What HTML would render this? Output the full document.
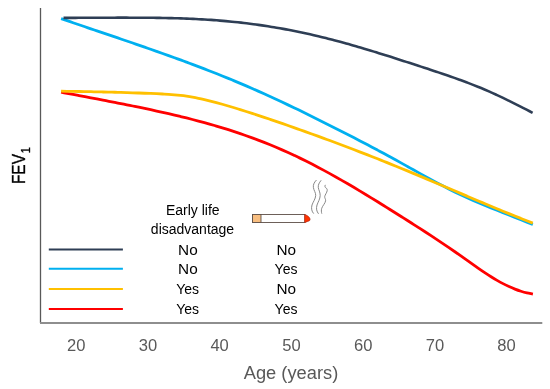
<!DOCTYPE html>
<html><head><meta charset="utf-8"><style>
html,body{margin:0;padding:0;background:#fff;}
svg{display:block;will-change:transform;}
text{font-family:"Liberation Sans",sans-serif;}
.tick{font-size:16px;fill:#595959;text-anchor:middle;}
.lg{font-size:14px;fill:#000;text-anchor:middle;}
</style></head><body>
<svg width="550" height="389" viewBox="0 0 550 389">
<rect width="550" height="389" fill="#fff"/>
<line x1="40.5" y1="8" x2="40.5" y2="323" stroke="#595959" stroke-width="1.3"/>
<line x1="40" y1="323" x2="542.3" y2="323" stroke="#8E8E8E" stroke-width="2.1"/>
<g fill="none" stroke-linecap="butt" stroke-linejoin="round">
<path d="M61.10,18.60 C63.09,19.29 65.08,19.98 67.07,20.67 C69.06,21.35 71.05,22.04 73.04,22.72 C75.03,23.40 77.02,24.08 79.01,24.76 C81.00,25.44 82.99,26.12 84.98,26.80 C86.97,27.48 88.96,28.15 90.95,28.83 C92.94,29.50 94.94,30.18 96.93,30.86 C98.92,31.53 100.91,32.20 102.90,32.88 C104.89,33.55 106.88,34.23 108.87,34.90 C110.86,35.58 112.85,36.25 114.84,36.93 C116.83,37.61 118.82,38.28 120.81,38.96 C122.80,39.64 124.79,40.32 126.78,41.00 C128.77,41.68 130.76,42.36 132.75,43.04 C134.74,43.73 136.73,44.41 138.72,45.10 C140.71,45.78 142.70,46.47 144.69,47.16 C146.68,47.86 148.67,48.55 150.66,49.25 C152.65,49.94 154.64,50.64 156.63,51.34 C158.62,52.04 160.61,52.75 162.61,53.46 C164.60,54.16 166.59,54.87 168.58,55.59 C170.57,56.30 172.56,57.02 174.55,57.74 C176.54,58.47 178.53,59.19 180.52,59.92 C182.51,60.65 184.50,61.39 186.49,62.12 C188.48,62.86 190.47,63.61 192.46,64.35 C194.45,65.10 196.44,65.85 198.43,66.61 C200.42,67.37 202.41,68.13 204.40,68.90 C206.39,69.66 208.38,70.44 210.37,71.21 C212.36,71.99 214.35,72.78 216.34,73.57 C218.33,74.36 220.32,75.15 222.31,75.95 C224.30,76.75 226.29,77.56 228.28,78.38 C230.28,79.19 232.27,80.01 234.26,80.84 C236.25,81.67 238.24,82.50 240.23,83.34 C242.22,84.18 244.21,85.03 246.20,85.89 C248.19,86.74 250.18,87.60 252.17,88.47 C254.16,89.34 256.15,90.22 258.14,91.11 C260.13,91.99 262.12,92.88 264.11,93.78 C266.10,94.68 268.09,95.59 270.08,96.50 C272.07,97.41 274.06,98.33 276.05,99.25 C278.04,100.17 280.03,101.10 282.02,102.04 C284.01,102.97 286.00,103.91 287.99,104.86 C289.98,105.81 291.97,106.76 293.96,107.71 C295.95,108.67 297.95,109.63 299.94,110.60 C301.93,111.56 303.92,112.53 305.91,113.51 C307.90,114.48 309.89,115.46 311.88,116.45 C313.87,117.43 315.86,118.42 317.85,119.41 C319.84,120.40 321.83,121.39 323.82,122.39 C325.81,123.38 327.80,124.38 329.79,125.39 C331.78,126.39 333.77,127.40 335.76,128.41 C337.75,129.41 339.74,130.43 341.73,131.44 C343.72,132.46 345.71,133.48 347.70,134.50 C349.69,135.52 351.68,136.55 353.67,137.58 C355.66,138.61 357.65,139.64 359.64,140.68 C361.63,141.71 363.62,142.75 365.62,143.80 C367.61,144.85 369.60,145.89 371.59,146.95 C373.58,148.00 375.57,149.06 377.56,150.12 C379.55,151.19 381.54,152.25 383.53,153.33 C385.52,154.40 387.51,155.48 389.50,156.56 C391.49,157.64 393.48,158.73 395.47,159.82 C397.46,160.91 399.45,162.01 401.44,163.12 C403.43,164.22 405.42,165.33 407.41,166.44 C409.40,167.55 411.39,168.66 413.38,169.77 C415.37,170.89 417.36,172.00 419.35,173.11 C421.34,174.22 423.33,175.32 425.32,176.42 C427.31,177.52 429.30,178.62 431.29,179.70 C433.29,180.79 435.28,181.87 437.27,182.93 C439.26,184.00 441.25,185.06 443.24,186.10 C445.23,187.14 447.22,188.17 449.21,189.18 C451.20,190.19 453.19,191.19 455.18,192.17 C457.17,193.14 459.16,194.10 461.15,195.04 C463.14,195.97 465.13,196.89 467.12,197.79 C469.11,198.69 471.10,199.57 473.09,200.43 C475.08,201.30 477.07,202.15 479.06,202.99 C481.05,203.83 483.04,204.65 485.03,205.47 C487.02,206.28 489.01,207.09 491.00,207.89 C492.99,208.69 494.98,209.48 496.97,210.27 C498.96,211.06 500.96,211.84 502.95,212.63 C504.94,213.41 506.93,214.19 508.92,214.97 C510.91,215.76 512.90,216.54 514.89,217.33 C516.88,218.12 518.87,218.91 520.86,219.71 C522.85,220.51 524.84,221.31 526.83,222.12 C528.82,222.94 530.81,223.77 532.80,224.60" stroke="#00B0F0" stroke-width="2.8"/>
<path d="M61.10,92.20 C63.09,92.58 65.08,92.95 67.07,93.33 C69.06,93.70 71.05,94.08 73.04,94.45 C75.04,94.83 77.03,95.20 79.02,95.58 C81.01,95.95 83.00,96.33 84.99,96.71 C86.98,97.08 88.97,97.46 90.96,97.84 C92.95,98.21 94.94,98.59 96.93,98.97 C98.92,99.35 100.91,99.73 102.91,100.11 C104.90,100.50 106.89,100.88 108.88,101.27 C110.87,101.65 112.86,102.04 114.85,102.43 C116.84,102.82 118.83,103.21 120.82,103.60 C122.81,104.00 124.80,104.39 126.79,104.79 C128.78,105.19 130.78,105.60 132.77,106.00 C134.76,106.41 136.75,106.81 138.74,107.23 C140.73,107.64 142.72,108.05 144.71,108.47 C146.70,108.89 148.69,109.31 150.68,109.74 C152.67,110.17 154.66,110.60 156.65,111.03 C158.65,111.47 160.64,111.91 162.63,112.35 C164.62,112.80 166.61,113.25 168.60,113.71 C170.59,114.16 172.58,114.62 174.57,115.09 C176.56,115.56 178.55,116.04 180.54,116.52 C182.53,117.00 184.52,117.49 186.52,117.98 C188.51,118.48 190.50,118.98 192.49,119.50 C194.48,120.01 196.47,120.53 198.46,121.06 C200.45,121.59 202.44,122.12 204.43,122.67 C206.42,123.22 208.41,123.77 210.40,124.34 C212.39,124.90 214.39,125.48 216.38,126.07 C218.37,126.65 220.36,127.25 222.35,127.86 C224.34,128.46 226.33,129.08 228.32,129.71 C230.31,130.34 232.30,130.98 234.29,131.64 C236.28,132.29 238.27,132.96 240.26,133.64 C242.26,134.32 244.25,135.01 246.24,135.71 C248.23,136.42 250.22,137.13 252.21,137.86 C254.20,138.60 256.19,139.34 258.18,140.10 C260.17,140.86 262.16,141.63 264.15,142.41 C266.14,143.20 268.13,144.00 270.13,144.81 C272.12,145.62 274.11,146.45 276.10,147.29 C278.09,148.14 280.08,148.99 282.07,149.86 C284.06,150.74 286.05,151.62 288.04,152.52 C290.03,153.42 292.02,154.34 294.01,155.27 C296.00,156.21 298.00,157.15 299.99,158.12 C301.98,159.08 303.97,160.06 305.96,161.05 C307.95,162.04 309.94,163.05 311.93,164.07 C313.92,165.10 315.91,166.13 317.90,167.18 C319.89,168.23 321.88,169.30 323.87,170.37 C325.87,171.44 327.86,172.53 329.85,173.63 C331.84,174.73 333.83,175.84 335.82,176.96 C337.81,178.08 339.80,179.22 341.79,180.36 C343.78,181.50 345.77,182.65 347.76,183.81 C349.75,184.97 351.74,186.14 353.74,187.32 C355.73,188.50 357.72,189.69 359.71,190.88 C361.70,192.08 363.69,193.28 365.68,194.48 C367.67,195.69 369.66,196.91 371.65,198.13 C373.64,199.35 375.63,200.57 377.62,201.81 C379.61,203.04 381.61,204.27 383.60,205.51 C385.59,206.75 387.58,208.00 389.57,209.24 C391.56,210.49 393.55,211.74 395.54,213.00 C397.53,214.25 399.52,215.50 401.51,216.76 C403.50,218.02 405.49,219.28 407.48,220.54 C409.48,221.81 411.47,223.07 413.46,224.34 C415.45,225.61 417.44,226.89 419.43,228.17 C421.42,229.45 423.41,230.73 425.40,232.02 C427.39,233.31 429.38,234.61 431.37,235.92 C433.36,237.22 435.35,238.53 437.35,239.86 C439.34,241.18 441.33,242.51 443.32,243.85 C445.31,245.19 447.30,246.53 449.29,247.89 C451.28,249.25 453.27,250.62 455.26,252.00 C457.25,253.39 459.24,254.78 461.23,256.19 C463.22,257.59 465.22,259.01 467.21,260.42 C469.20,261.84 471.19,263.26 473.18,264.66 C475.17,266.06 477.16,267.46 479.15,268.83 C481.14,270.20 483.13,271.56 485.12,272.88 C487.11,274.20 489.10,275.49 491.09,276.74 C493.09,277.98 495.08,279.19 497.07,280.34 C499.06,281.49 501.05,282.59 503.04,283.63 C505.03,284.67 507.02,285.65 509.01,286.56 C511.00,287.47 512.99,288.32 514.98,289.10 C516.97,289.88 518.96,290.59 520.96,291.22 C522.95,291.85 524.94,292.42 526.93,292.90 C528.92,293.38 530.91,293.70 532.90,294.10" stroke="#FF0000" stroke-width="2.8"/>
<path d="M61.10,91.20 C63.09,91.23 65.08,91.26 67.07,91.29 C69.06,91.32 71.05,91.35 73.04,91.39 C75.03,91.42 77.02,91.45 79.01,91.49 C81.00,91.52 82.99,91.56 84.98,91.60 C86.97,91.64 88.96,91.67 90.95,91.72 C92.94,91.76 94.94,91.80 96.93,91.84 C98.92,91.88 100.91,91.93 102.90,91.98 C104.89,92.02 106.88,92.07 108.87,92.12 C110.86,92.17 112.85,92.22 114.84,92.27 C116.83,92.33 118.82,92.38 120.81,92.44 C122.80,92.50 124.79,92.56 126.78,92.62 C128.77,92.68 130.76,92.74 132.75,92.81 C134.74,92.87 136.73,92.94 138.72,93.01 C140.71,93.08 142.70,93.15 144.69,93.23 C146.68,93.30 148.67,93.38 150.66,93.46 C152.65,93.54 154.64,93.62 156.63,93.71 C158.62,93.80 160.61,93.89 162.61,94.00 C164.60,94.12 166.59,94.23 168.58,94.37 C170.57,94.51 172.56,94.67 174.55,94.85 C176.54,95.02 178.53,95.22 180.52,95.45 C182.51,95.67 184.50,95.92 186.49,96.20 C188.48,96.49 190.47,96.80 192.46,97.15 C194.45,97.49 196.44,97.87 198.43,98.28 C200.42,98.68 202.41,99.12 204.40,99.58 C206.39,100.04 208.38,100.52 210.37,101.02 C212.36,101.53 214.35,102.05 216.34,102.59 C218.33,103.13 220.32,103.69 222.31,104.25 C224.30,104.82 226.29,105.40 228.28,105.99 C230.28,106.58 232.27,107.18 234.26,107.78 C236.25,108.38 238.24,109.00 240.23,109.61 C242.22,110.23 244.21,110.85 246.20,111.48 C248.19,112.11 250.18,112.75 252.17,113.39 C254.16,114.03 256.15,114.68 258.14,115.33 C260.13,115.99 262.12,116.65 264.11,117.31 C266.10,117.97 268.09,118.64 270.08,119.31 C272.07,119.99 274.06,120.67 276.05,121.35 C278.04,122.03 280.03,122.72 282.02,123.41 C284.01,124.10 286.00,124.79 287.99,125.49 C289.98,126.18 291.97,126.88 293.96,127.59 C295.95,128.29 297.95,129.00 299.94,129.71 C301.93,130.41 303.92,131.13 305.91,131.84 C307.90,132.55 309.89,133.27 311.88,133.99 C313.87,134.71 315.86,135.43 317.85,136.16 C319.84,136.88 321.83,137.61 323.82,138.34 C325.81,139.07 327.80,139.81 329.79,140.54 C331.78,141.28 333.77,142.02 335.76,142.76 C337.75,143.50 339.74,144.25 341.73,145.00 C343.72,145.75 345.71,146.50 347.70,147.25 C349.69,148.01 351.68,148.77 353.67,149.53 C355.66,150.29 357.65,151.05 359.64,151.82 C361.63,152.59 363.62,153.36 365.62,154.13 C367.61,154.91 369.60,155.68 371.59,156.47 C373.58,157.25 375.57,158.03 377.56,158.82 C379.55,159.61 381.54,160.40 383.53,161.19 C385.52,161.99 387.51,162.79 389.50,163.59 C391.49,164.39 393.48,165.20 395.47,166.01 C397.46,166.82 399.45,167.63 401.44,168.45 C403.43,169.26 405.42,170.08 407.41,170.91 C409.40,171.73 411.39,172.56 413.38,173.39 C415.37,174.22 417.36,175.05 419.35,175.89 C421.34,176.72 423.33,177.56 425.32,178.40 C427.31,179.24 429.30,180.08 431.29,180.92 C433.29,181.76 435.28,182.61 437.27,183.45 C439.26,184.30 441.25,185.15 443.24,185.99 C445.23,186.84 447.22,187.69 449.21,188.54 C451.20,189.38 453.19,190.23 455.18,191.08 C457.17,191.93 459.16,192.78 461.15,193.63 C463.14,194.47 465.13,195.32 467.12,196.17 C469.11,197.01 471.10,197.86 473.09,198.70 C475.08,199.54 477.07,200.38 479.06,201.22 C481.05,202.06 483.04,202.90 485.03,203.74 C487.02,204.57 489.01,205.41 491.00,206.24 C492.99,207.07 494.98,207.90 496.97,208.72 C498.96,209.54 500.96,210.37 502.95,211.18 C504.94,212.00 506.93,212.81 508.92,213.62 C510.91,214.43 512.90,215.24 514.89,216.04 C516.88,216.84 518.87,217.63 520.86,218.42 C522.85,219.21 524.84,220.00 526.83,220.78 C528.82,221.56 530.81,222.33 532.80,223.10" stroke="#FFC000" stroke-width="2.8"/>
<path d="M63.50,17.90 C65.50,17.89 67.51,17.88 69.51,17.87 C71.52,17.86 73.52,17.85 75.53,17.84 C77.53,17.83 79.54,17.82 81.54,17.81 C83.55,17.80 85.55,17.79 87.56,17.78 C89.56,17.77 91.57,17.76 93.57,17.75 C95.58,17.74 97.58,17.73 99.58,17.72 C101.59,17.71 103.59,17.71 105.60,17.70 C107.60,17.69 109.61,17.69 111.61,17.68 C113.62,17.68 115.62,17.68 117.63,17.67 C119.63,17.67 121.64,17.67 123.64,17.67 C125.65,17.67 127.65,17.67 129.66,17.68 C131.66,17.68 133.66,17.68 135.67,17.69 C137.67,17.70 139.68,17.71 141.68,17.72 C143.69,17.73 145.69,17.74 147.70,17.76 C149.70,17.78 151.71,17.80 153.71,17.82 C155.72,17.85 157.72,17.87 159.73,17.91 C161.73,17.94 163.74,17.97 165.74,18.01 C167.74,18.05 169.75,18.10 171.75,18.15 C173.76,18.20 175.76,18.25 177.77,18.31 C179.77,18.37 181.78,18.44 183.78,18.51 C185.79,18.58 187.79,18.66 189.80,18.75 C191.80,18.83 193.81,18.92 195.81,19.02 C197.81,19.12 199.82,19.23 201.82,19.34 C203.83,19.45 205.83,19.58 207.84,19.70 C209.84,19.83 211.85,19.97 213.85,20.12 C215.86,20.26 217.86,20.42 219.87,20.58 C221.87,20.75 223.88,20.92 225.88,21.10 C227.89,21.28 229.89,21.48 231.89,21.68 C233.90,21.88 235.90,22.09 237.91,22.31 C239.91,22.53 241.92,22.76 243.92,22.99 C245.93,23.23 247.93,23.48 249.94,23.74 C251.94,23.99 253.95,24.26 255.95,24.54 C257.96,24.81 259.96,25.10 261.97,25.39 C263.97,25.69 265.97,25.99 267.98,26.31 C269.98,26.62 271.99,26.94 273.99,27.28 C276.00,27.61 278.00,27.95 280.01,28.30 C282.01,28.66 284.02,29.02 286.02,29.39 C288.03,29.76 290.03,30.14 292.04,30.54 C294.04,30.93 296.05,31.33 298.05,31.74 C300.05,32.15 302.06,32.57 304.06,33.00 C306.07,33.43 308.07,33.87 310.08,34.32 C312.08,34.77 314.09,35.23 316.09,35.70 C318.10,36.17 320.10,36.65 322.11,37.14 C324.11,37.63 326.12,38.13 328.12,38.64 C330.13,39.15 332.13,39.67 334.13,40.20 C336.14,40.72 338.14,41.26 340.15,41.80 C342.15,42.35 344.16,42.90 346.16,43.46 C348.17,44.02 350.17,44.58 352.18,45.16 C354.18,45.73 356.19,46.31 358.19,46.90 C360.20,47.48 362.20,48.08 364.21,48.67 C366.21,49.27 368.21,49.88 370.22,50.49 C372.22,51.09 374.23,51.71 376.23,52.33 C378.24,52.95 380.24,53.57 382.25,54.20 C384.25,54.82 386.26,55.46 388.26,56.09 C390.27,56.72 392.27,57.36 394.28,58.00 C396.28,58.64 398.29,59.29 400.29,59.93 C402.29,60.58 404.30,61.22 406.30,61.87 C408.31,62.52 410.31,63.17 412.32,63.82 C414.32,64.47 416.33,65.13 418.33,65.78 C420.34,66.43 422.34,67.08 424.35,67.74 C426.35,68.39 428.36,69.05 430.36,69.71 C432.36,70.37 434.37,71.03 436.37,71.70 C438.38,72.36 440.38,73.03 442.39,73.71 C444.39,74.39 446.40,75.07 448.40,75.77 C450.41,76.46 452.41,77.16 454.42,77.87 C456.42,78.58 458.43,79.30 460.43,80.04 C462.44,80.77 464.44,81.52 466.44,82.27 C468.45,83.03 470.45,83.80 472.46,84.59 C474.46,85.38 476.47,86.18 478.47,87.00 C480.48,87.81 482.48,88.65 484.49,89.50 C486.49,90.36 488.50,91.23 490.50,92.12 C492.51,93.01 494.51,93.93 496.52,94.85 C498.52,95.78 500.52,96.73 502.53,97.69 C504.53,98.65 506.54,99.62 508.54,100.61 C510.55,101.59 512.55,102.59 514.56,103.60 C516.56,104.60 518.57,105.62 520.57,106.64 C522.58,107.66 524.58,108.68 526.59,109.71 C528.59,110.74 530.60,111.77 532.60,112.80" stroke="#2E3E55" stroke-width="2.6"/>
</g>
<g stroke-width="2.05">
<line x1="48.8" y1="249.5" x2="122.9" y2="249.5" stroke="#2E3E55"/>
<line x1="48.8" y1="268.8" x2="122.9" y2="268.8" stroke="#00B0F0"/>
<line x1="48.8" y1="288.9" x2="122.9" y2="288.9" stroke="#FFC000"/>
<line x1="48.8" y1="308.9" x2="122.9" y2="308.9" stroke="#FF0000"/>
</g>
<text x="76.3" y="351.1" class="tick" textLength="18.4" lengthAdjust="spacingAndGlyphs">20</text>
<text x="148" y="351.1" class="tick" textLength="18.4" lengthAdjust="spacingAndGlyphs">30</text>
<text x="219.6" y="351.1" class="tick" textLength="18.4" lengthAdjust="spacingAndGlyphs">40</text>
<text x="291.4" y="351.1" class="tick" textLength="18.4" lengthAdjust="spacingAndGlyphs">50</text>
<text x="363.2" y="351.1" class="tick" textLength="18.4" lengthAdjust="spacingAndGlyphs">60</text>
<text x="434.9" y="351.1" class="tick" textLength="18.4" lengthAdjust="spacingAndGlyphs">70</text>
<text x="506.4" y="351.1" class="tick" textLength="18.4" lengthAdjust="spacingAndGlyphs">80</text>
<text x="291" y="378.6" style="font-size:18.3px;fill:#595959;text-anchor:middle">Age (years)</text>
<text transform="translate(24.5,184.1) rotate(-90) scale(0.84,1)" style="font-size:18.4px;fill:#000;stroke:#000;stroke-width:0.35px">FEV<tspan dy="5.7" dx="1" style="font-size:13px">1</tspan></text>
<text x="192.8" y="214.9" class="lg">Early life</text>
<text x="192.5" y="233.6" class="lg">disadvantage</text>
<text x="187.9" y="254.9" class="lg" textLength="19.6" lengthAdjust="spacingAndGlyphs">No</text>
<text x="187.9" y="274.3" class="lg" textLength="19.6" lengthAdjust="spacingAndGlyphs">No</text>
<text x="187.7" y="294.2" class="lg">Yes</text>
<text x="187.7" y="313.8" class="lg">Yes</text>
<text x="286.3" y="254.9" class="lg" textLength="19.6" lengthAdjust="spacingAndGlyphs">No</text>
<text x="286" y="274.3" class="lg">Yes</text>
<text x="286.3" y="294.2" class="lg" textLength="19.6" lengthAdjust="spacingAndGlyphs">No</text>
<text x="286" y="313.8" class="lg">Yes</text>
<!-- cigarette -->
<rect x="252.5" y="214.5" width="52.5" height="8" fill="#fff" stroke="#5E5048" stroke-width="0.9"/>
<rect x="252.5" y="214.5" width="8.5" height="8" fill="#F8BE80" stroke="#5E5048" stroke-width="0.9"/>
<path d="M304.6,214.5 C306.6,215 308.7,216.3 309.7,218 C310.4,219.3 310.2,220.5 309.1,220.9 C307.7,221.3 306.4,221.7 305.5,222.4 L304.6,222.4 Z" fill="#FF3300" stroke="#A02418" stroke-width="0.6"/>
<!-- smoke -->
<g fill="none" stroke="#7A7A7A" stroke-width="0.9" stroke-linecap="round">
<path d="M316.2,180.3 C314,182.5 313,185 313.4,187.5 C313.8,190.5 315.8,192.5 315.7,195.5 C315.5,199 313,202 312,205 C311,208.5 311.8,211.5 313.4,213.3"/>
<path d="M320.9,180.6 C319,183 318,185 318.3,187.5 C318.6,190 320.2,192 320.2,195.5 C320.1,199 318,202 317,205 C316,208.5 316.6,211.5 318.3,213.5"/>
<path d="M325.2,185.2 C324.6,186.2 325,187.4 325.8,187.8 C326.8,188.3 327.4,189.4 327.2,190.6 C326.9,192.6 325,194.8 324.7,196.6 C324.5,198 325.8,199 325.6,200.8 C325.3,203.2 322.6,205.6 321.7,208.4 C321.2,210.2 321.3,212 321.7,213.3"/>
</g>
</svg>
</body></html>
